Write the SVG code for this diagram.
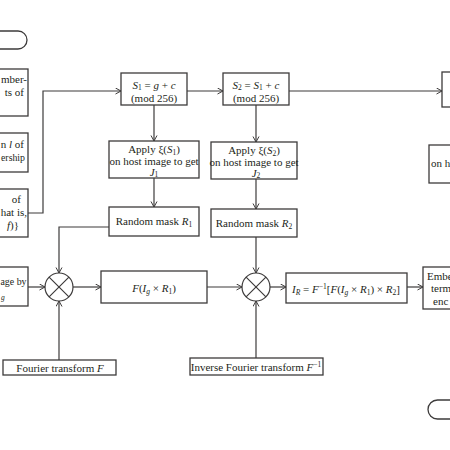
<svg xmlns="http://www.w3.org/2000/svg" width="450" height="450" viewBox="0 0 450 450">
<defs>
<marker id="ah" markerWidth="8" markerHeight="8" refX="6" refY="3.5" orient="auto" markerUnits="userSpaceOnUse">
<path d="M0.5,0.5 L6,3.5 L0.5,6.5" fill="none" stroke="#3d3b3b" stroke-width="1"/>
</marker>
<style>
.b{fill:#fff;stroke:#3d3b3b;stroke-width:1.3}
.c{fill:none;stroke:#3d3b3b;stroke-width:1.2}
.t{font-family:"Liberation Serif","DejaVu Serif",serif;font-size:11px;fill:#231f20}
.m{text-anchor:middle}
.e{text-anchor:end}
.i{font-style:italic}
.s{font-size:7.5px}
</style>
</defs>
<rect width="450" height="450" fill="#fff"/>

<g id="terminal-top"><rect class="b" x="-20" y="31" width="47" height="18" rx="9"/></g>
<g id="box-left-1"><rect class="b" x="-5" y="69" width="33" height="47"/>
<text class="t e" x="27" y="83">mber-</text><text class="t e" x="24" y="96">ts of</text></g>
<g id="box-left-2"><rect class="b" x="-5" y="133" width="33" height="39"/>
<text class="t e" x="24" y="148">n <tspan class="i">l</tspan> of</text><text class="t" x="1" y="161" textLength="24" lengthAdjust="spacingAndGlyphs">ership</text></g>
<g id="box-left-3"><rect class="b" x="-5" y="189" width="33" height="48"/>
<text class="t e" x="21" y="203">of</text><text class="t e" x="27" y="216">hat is,</text><text class="t e" x="19" y="229"><tspan class="i">f</tspan>)}</text></g>
<g id="box-left-4"><rect class="b" x="-5" y="267" width="33" height="39"/>
<text class="t" x="0.5" y="285" textLength="26" lengthAdjust="spacingAndGlyphs">age by</text><text class="t i s" x="1" y="300">g</text></g>

<g id="s1"><rect class="b" x="121" y="73" width="66" height="32"/>
<text class="t m" x="154" y="88.5"><tspan class="i">S</tspan><tspan class="s" dy="1.5">1</tspan><tspan dy="-1.5"> = </tspan><tspan class="i">g</tspan> + <tspan class="i">c</tspan></text>
<text class="t m" x="154" y="101.5">(mod 256)</text></g>
<g id="s2"><rect class="b" x="223" y="73" width="66" height="32"/>
<text class="t m" x="256" y="88.5"><tspan class="i">S</tspan><tspan class="s" dy="1.5">2</tspan><tspan dy="-1.5"> = </tspan><tspan class="i">S</tspan><tspan class="s" dy="1.5">1</tspan><tspan dy="-1.5"> + </tspan><tspan class="i">c</tspan></text>
<text class="t m" x="256" y="101.5">(mod 256)</text></g>
<g id="box-right-top"><rect class="b" x="442" y="72" width="20" height="35"/></g>

<g id="apply1"><rect class="b" x="109" y="141" width="90" height="37"/>
<text class="t m" x="154" y="153">Apply ξ(<tspan class="i">S</tspan><tspan class="s" dy="1.5">1</tspan><tspan dy="-1.5">)</tspan></text>
<text class="t m" x="154" y="165">on host image to get</text>
<text class="t m" x="154" y="175.5"><tspan class="i">J</tspan><tspan class="s" dy="1.5">1</tspan></text></g>
<g id="apply2"><rect class="b" x="211" y="142" width="86" height="37"/>
<text class="t m" x="254" y="154">Apply ξ(<tspan class="i">S</tspan><tspan class="s" dy="1.5">2</tspan><tspan dy="-1.5">)</tspan></text>
<text class="t m" x="254" y="166">on host image to get</text>
<text class="t m" x="256" y="176.5"><tspan class="i">J</tspan><tspan class="s" dy="1.5">2</tspan></text></g>
<g id="apply3"><rect class="b" x="429" y="145" width="30" height="38"/>
<text class="t" x="431" y="167">on h</text></g>

<g id="mask1"><rect class="b" x="109" y="207" width="90" height="29"/>
<text class="t m" x="154" y="225">Random mask <tspan class="i">R</tspan><tspan class="s" dy="2">1</tspan></text></g>
<g id="mask2"><rect class="b" x="211" y="209" width="86" height="28"/>
<text class="t m" x="254" y="227">Random mask <tspan class="i">R</tspan><tspan class="s" dy="2">2</tspan></text></g>

<g id="mult1"><circle class="c" cx="59" cy="287" r="14"/>
<path class="c" d="M49.1,277.1 L68.9,296.9 M68.9,277.1 L49.1,296.9"/></g>
<g id="mult2"><circle class="c" cx="256" cy="287" r="14"/>
<path class="c" d="M246.1,277.1 L265.9,296.9 M265.9,277.1 L246.1,296.9"/></g>

<g id="fbox"><rect class="b" x="101" y="271" width="106" height="32"/>
<text class="t m" x="154" y="292"><tspan class="i">F</tspan>(<tspan class="i">I</tspan><tspan class="s i" dy="2">g</tspan><tspan dy="-2"> × </tspan><tspan class="i">R</tspan><tspan class="s" dy="2">1</tspan><tspan dy="-2">)</tspan></text></g>
<g id="irbox"><rect class="b" x="286" y="273" width="121" height="30"/>
<text class="t m" x="346" y="293"><tspan class="i">I</tspan><tspan class="s i" dy="2">R</tspan><tspan dy="-2"> = </tspan><tspan class="i">F</tspan><tspan class="s" dy="-4">−1</tspan><tspan dy="4">[</tspan><tspan class="i">F</tspan>(<tspan class="i">I</tspan><tspan class="s i" dy="2">g</tspan><tspan dy="-2"> × </tspan><tspan class="i">R</tspan><tspan class="s" dy="2">1</tspan><tspan dy="-2">) × </tspan><tspan class="i">R</tspan><tspan class="s" dy="2">2</tspan><tspan dy="-2">]</tspan></text></g>
<g id="embed"><rect class="b" x="423" y="267" width="40" height="42"/>
<text class="t" x="427" y="280">Embe</text><text class="t" x="431" y="292">term</text><text class="t" x="433" y="305">enc</text></g>

<g id="fourier"><rect class="b" x="3" y="360" width="113" height="15"/>
<text class="t m" x="60" y="372">Fourier transform <tspan class="i">F</tspan></text></g>
<g id="inverse"><rect class="b" x="190" y="358" width="133" height="17"/>
<text class="t m" x="256" y="371">Inverse Fourier transform <tspan class="i">F</tspan><tspan class="s" dy="-4">−1</tspan></text></g>

<g id="terminal-bottom"><rect class="b" x="428" y="400" width="40" height="19" rx="9.5"/></g>

<g id="connectors">
<path class="c" d="M28,213 H43 V91 H121" marker-end="url(#ah)"/>
<path class="c" d="M187,91 H223" marker-end="url(#ah)"/>
<path class="c" d="M289,91 H442" marker-end="url(#ah)"/>
<path class="c" d="M154,105 V141" marker-end="url(#ah)"/>
<path class="c" d="M256,105 V142" marker-end="url(#ah)"/>
<path class="c" d="M154,178 V207" marker-end="url(#ah)"/>
<path class="c" d="M256,179 V209" marker-end="url(#ah)"/>
<path class="c" d="M109,227 H59 V273" marker-end="url(#ah)"/>
<path class="c" d="M256,237 V273" marker-end="url(#ah)"/>
<path class="c" d="M28,287 H45" marker-end="url(#ah)"/>
<path class="c" d="M73,287 H101" marker-end="url(#ah)"/>
<path class="c" d="M59,360 V301" marker-end="url(#ah)"/>
<path class="c" d="M207,287 H242" marker-end="url(#ah)"/>
<path class="c" d="M256,358 V301" marker-end="url(#ah)"/>
<path class="c" d="M270,287 H286" marker-end="url(#ah)"/>
<path class="c" d="M407,287 H423" marker-end="url(#ah)"/>
</g>
</svg>
